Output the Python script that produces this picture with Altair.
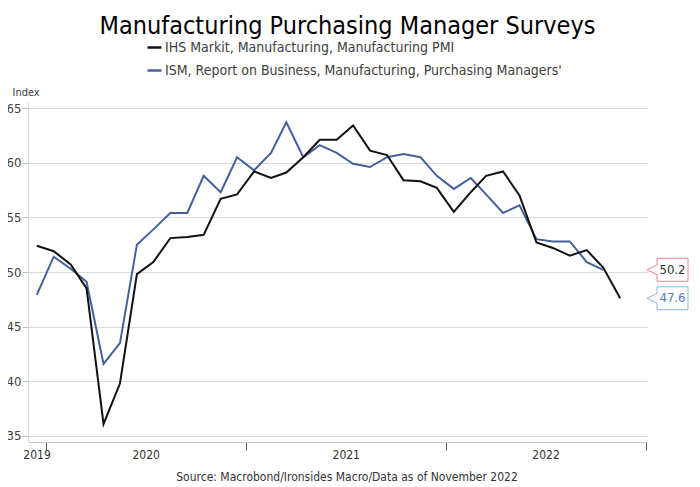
import altair as alt
import pandas as pd

# ---------------- data ----------------
ihs_name = "IHS Markit, Manufacturing, Manufacturing PMI"
ism_name = "ISM, Report on Business, Manufacturing, Purchasing Managers'"

start_month = "2019-12-01"
ihs_values = [52.4,
              51.9, 50.7, 48.5, 36.1, 39.8, 49.8, 50.9, 53.1, 53.2, 53.4, 56.7, 57.1,
              59.2, 58.6, 59.1, 60.5, 62.1, 62.1, 63.4, 61.1, 60.7, 58.4, 58.3, 57.7,
              55.5, 57.3, 58.8, 59.2, 57.0, 52.7, 52.2, 51.5, 52.0, 50.4, 47.6]
ism_values = [47.9,
              51.4, 50.3, 49.1, 41.6, 43.5, 52.5, 53.9, 55.4, 55.4, 58.8, 57.3, 60.5,
              59.3, 60.9, 63.7, 60.5, 61.6, 60.9, 59.9, 59.6, 60.5, 60.8, 60.5, 58.8,
              57.6, 58.6, 57.1, 55.4, 56.1, 53.0, 52.8, 52.8, 50.9, 50.2]

year_labels = ["2019", "2020", "2021", "2022"]
y_ticks = [35, 40, 45, 50, 55, 60, 65]
callout_labels = ["50.2", "47.6"]
callout_values = [50.2, 47.6]
title_text = "Manufacturing Purchasing Manager Surveys"
source_text = "Source: Macrobond/Ironsides Macro/Data as of November 2022"

# ---------------- tables ----------------
def month_dates(n):
    return list(pd.date_range(start_month, periods=n, freq="MS") + pd.Timedelta(days=14))

df = pd.concat([
    pd.DataFrame({"series": ism_name, "date": month_dates(len(ism_values)), "value": ism_values}),
    pd.DataFrame({"series": ihs_name, "date": month_dates(len(ihs_values)), "value": ihs_values}),
], ignore_index=True)

x_start = pd.Timestamp("2019-11-29")
x_end = pd.Timestamp("2023-01-03")
label_dates = []
for yl in year_labels:
    a = max(pd.Timestamp(f"{yl}-01-01"), x_start)
    b = min(pd.Timestamp(f"{int(yl) + 1}-01-01"), x_end)
    label_dates.append(a + (b - a) / 2)
years_df = pd.DataFrame({"year": year_labels, "date": label_dates})
call_df = pd.DataFrame({"label": callout_labels, "value": callout_values})
src_df = pd.DataFrame({"t": [source_text]})

FONT = "DejaVu Sans Condensed, sans-serif"
W, H = 619, 340

xscale = alt.Scale(domain=[alt.DateTime(year=2019, month=11, date=29),
                           alt.DateTime(year=2023, month=1, date=3)])
yscale = alt.Scale(domain=[34.45, 65.55], nice=False, zero=False)

lines = alt.Chart(df).mark_line(strokeWidth=2, clip=True).encode(
    x=alt.X("date:T", scale=xscale, title=None,
            axis=alt.Axis(values=[alt.DateTime(year=yy, month=1, date=1) for yy in [2020, 2021, 2022, 2023]],
                          labels=False, grid=False, tickSize=8, tickColor="#595959",
                          domainColor="#c8c8c8")),
    y=alt.Y("value:Q", scale=yscale,
            axis=alt.Axis(values=y_ticks, title="Index", titleAngle=0, titleX=-16, titleY=-10,
                          titleAlign="left", titleBaseline="middle", titleFontWeight="normal",
                          titleFont=FONT, titleFontSize=11, titleColor="#404040",
                          labelFont=FONT, labelFontSize=13, labelColor="#404040", labelPadding=1,
                          tickSize=6, tickColor="#bfbfbf", domainColor="#d9d9d9",
                          grid=True, gridColor="#d9d9d9", gridWidth=1)),
    color=alt.Color("series:N",
                    scale=alt.Scale(domain=[ihs_name, ism_name], range=["#111111", "#44619b"]),
                    legend=alt.Legend(title=None, orient="none", legendX=118, legendY=-63,
                                      direction="vertical", symbolType="stroke", symbolSize=196,
                                      symbolStrokeWidth=2.5, labelFont=FONT, labelFontSize=14,
                                      labelColor="#404040", rowPadding=7, labelLimit=600,
                                      labelOffset=2)),
)

years = alt.Chart(years_df).mark_text(font=FONT, fontSize=12, color="#333333",
                                      baseline="middle", align="center").encode(
    x=alt.X("date:T", scale=xscale), y=alt.value(H + 13), text="year:N")

source = alt.Chart(src_df).mark_text(font=FONT, fontSize=12, color="#333333",
                                     baseline="middle", align="center").encode(
    x=alt.value(319), y=alt.value(375), text="t:N")

BOX = "M-1,0 L-0.51,-0.24 L-0.51,-0.56 L1,-0.56 L1,0.56 L-0.51,0.56 L-0.51,0.24 Z"
box_colors = ["#e8868b", "#8fb0e0"]
text_colors = ["#333333", "#4a7bc8"]
callouts = []
for lab, bc, tc in zip(callout_labels, box_colors, text_colors):
    sub = alt.Chart(call_df).transform_filter(alt.datum.label == lab)
    callouts.append(sub.mark_point(shape=BOX, size=1681, filled=True, fill="white",
                                   stroke=bc, strokeWidth=1, opacity=1).encode(
        x=alt.value(639.5), y=alt.Y("value:Q", scale=yscale)))
    callouts.append(sub.mark_text(font=FONT, fontSize=13, color=tc, align="center",
                                  baseline="middle").encode(
        x=alt.value(644.5), y=alt.Y("value:Q", scale=yscale), text="label:N"))

chart = alt.layer(lines, years, source, *callouts).properties(
    width=W, height=H,
    title=alt.TitleParams(title_text, font=FONT, fontSize=25, fontWeight="normal", color="black",
                          anchor="middle", frame="group", dx=10, dy=0, offset=0),
    autosize=alt.AutoSizeParams(type="none"),
    padding={"left": 20, "top": 94, "right": 45, "bottom": 42},
    background="white",
).configure_view(stroke=None)

chart.save("out.html", embed_options={"renderer": "svg", "actions": False})
